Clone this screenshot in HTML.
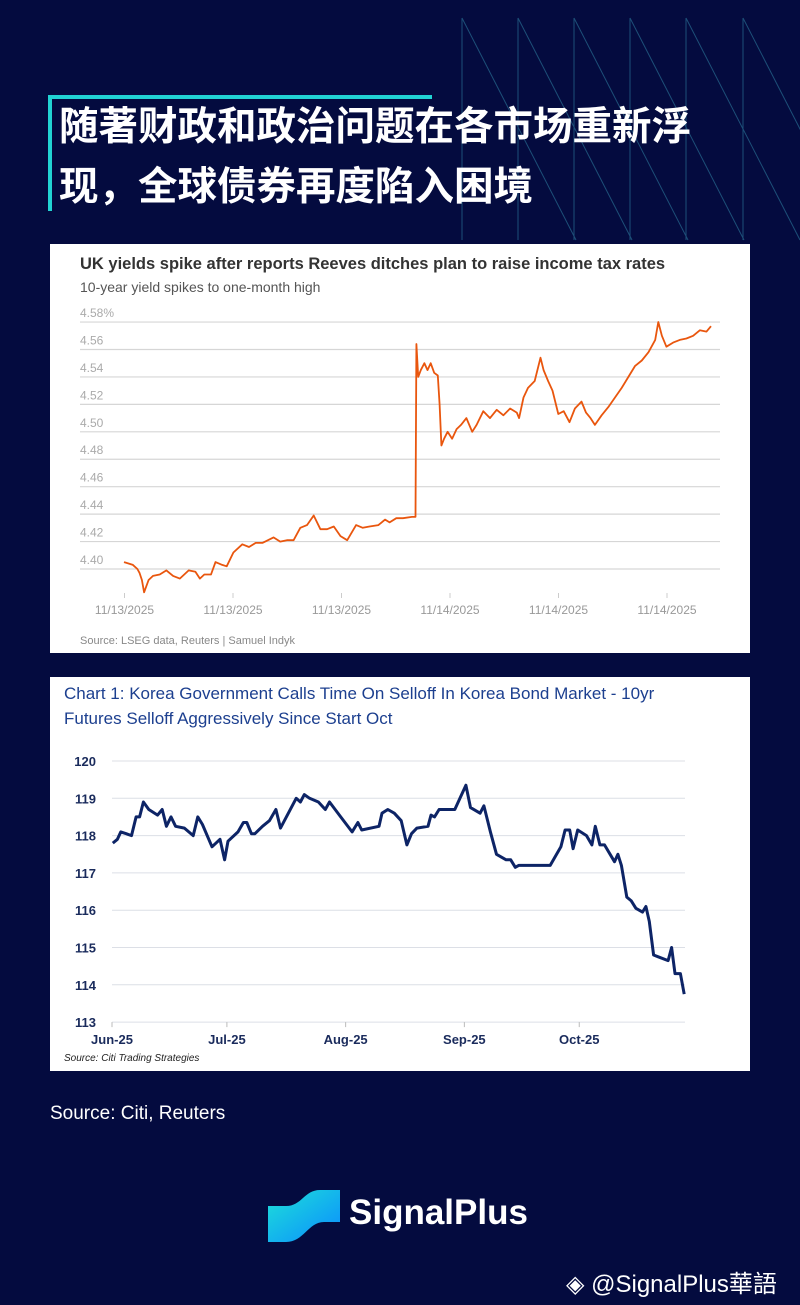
<!DOCTYPE html>
<html><head><meta charset="utf-8">
<style>
html,body{margin:0;padding:0}
body{width:800px;height:1305px;position:relative;overflow:hidden;background:#040b3f;font-family:"Liberation Sans","Noto Sans CJK SC",sans-serif}
.abs{position:absolute}
</style></head>
<body>
<svg class="abs" style="left:0;top:0" width="800" height="1305">
<defs>
<radialGradient id="g1" cx="1" cy="0" r="0.5"><stop offset="0" stop-color="#1fb8d8" stop-opacity="0.9"/><stop offset="1" stop-color="#040b3f" stop-opacity="0"/></radialGradient>
<radialGradient id="g2" cx="0" cy="0.5" r="0.5"><stop offset="0" stop-color="#168bb0" stop-opacity="0.8"/><stop offset="1" stop-color="#040b3f" stop-opacity="0"/></radialGradient>
<linearGradient id="lg" x1="0" x2="1" y1="0" y2="1"><stop offset="0" stop-color="#1ee0d8"/><stop offset="1" stop-color="#0a8cff"/></linearGradient>
</defs>
<rect x="620" y="-120" width="360" height="260" fill="url(#g1)"/>
<rect x="-60" y="520" width="120" height="160" fill="url(#g2)"/>
<g stroke="#1d4f78" stroke-width="1" fill="none">
<line x1="462" y1="18" x2="462" y2="240"/><line x1="462" y1="18" x2="576" y2="240"/>
<line x1="518" y1="18" x2="518" y2="240"/><line x1="518" y1="18" x2="632" y2="240"/>
<line x1="574" y1="18" x2="574" y2="240"/><line x1="574" y1="18" x2="688" y2="240"/>
<line x1="630" y1="18" x2="630" y2="240"/><line x1="630" y1="18" x2="744" y2="240"/>
<line x1="686" y1="18" x2="686" y2="240"/><line x1="686" y1="18" x2="800" y2="240"/>
<line x1="743" y1="18" x2="743" y2="240"/><line x1="743" y1="18" x2="857" y2="240"/>
</g>
</svg>

<div class="abs" style="left:48px;top:95px;width:384px;height:4px;background:#21d3d3"></div>
<div class="abs" style="left:48px;top:95px;width:4px;height:116px;background:#21d3d3"></div>
<div class="abs" style="left:59px;top:97px;width:740px;color:#fff;font-weight:bold;font-size:39.5px;line-height:60px;white-space:nowrap;font-family:'Liberation Sans','Noto Sans CJK SC',sans-serif">随著财政和政治问题在各市场重新浮<br>现，全球债券再度陷入困境</div>

<div class="abs" style="left:50px;top:244px;width:700px;height:409px;background:#fff">
<svg id="c1" width="700" height="409"></svg>
</div>

<div class="abs" style="left:50px;top:677px;width:700px;height:394px;background:#fff">
<svg id="c2" width="700" height="394"></svg>
</div>

<div class="abs" style="left:50px;top:1103px;color:#fff;font-size:19px">Source: Citi, Reuters</div>

<svg class="abs" style="left:268px;top:1188px" width="74" height="56">
<path d="M0 18 H18 C34 18 36 2 52 2 H72 V34 H56 C40 34 36 54 18 54 H0 Z" fill="url(#lg)"/>
</svg>
<div class="abs" style="left:349px;top:1193px;color:#fff;font-weight:bold;font-size:35px">SignalPlus</div>
<div class="abs" style="left:566px;top:1264px;color:#fff;font-size:24px;font-family:'Liberation Sans','Noto Sans CJK TC',sans-serif">◈ @SignalPlus華語</div>

<script>
const NS='http://www.w3.org/2000/svg';
function mk(svg,tag,attrs,text){const e=document.createElementNS(NS,tag);for(const k in attrs)e.setAttribute(k,attrs[k]);if(text!==undefined)e.textContent=text;svg.appendChild(e);return e;}

/* ---------- Chart 1 data ---------- */
const ukTimes=[0,10,20,30,35,40,45,55,65,80,95,110,125,145,160,170,180,195,205,220,230,245,265,280,295,310,335,350,365,380,395,410,425,440,455,470,485,500,520,535,550,570,585,595,610,625,645,653,655,659,665,673,680,687,695,703,707,711,717,725,735,745,755,767,780,790,805,820,835,850,865,880,885,895,905,920,933,940,950,960,973,985,998,1010,1025,1035,1045,1055,1070,1085,1100,1115,1130,1145,1160,1175,1190,1197,1205,1215,1230,1245,1260,1275,1290,1305,1315];
const ukYields=[4.405,4.404,4.403,4.400,4.397,4.392,4.383,4.392,4.395,4.396,4.399,4.395,4.393,4.399,4.398,4.393,4.396,4.396,4.405,4.403,4.402,4.412,4.418,4.416,4.419,4.419,4.423,4.420,4.421,4.421,4.430,4.432,4.439,4.429,4.429,4.431,4.424,4.421,4.432,4.430,4.431,4.432,4.436,4.434,4.437,4.437,4.438,4.438,4.564,4.540,4.545,4.550,4.545,4.550,4.543,4.541,4.520,4.490,4.495,4.500,4.495,4.502,4.505,4.510,4.500,4.505,4.515,4.510,4.516,4.512,4.517,4.514,4.510,4.525,4.532,4.537,4.554,4.545,4.537,4.530,4.513,4.515,4.507,4.517,4.522,4.514,4.510,4.505,4.512,4.518,4.525,4.532,4.540,4.548,4.552,4.558,4.567,4.580,4.570,4.562,4.565,4.567,4.568,4.570,4.574,4.573,4.577];
const ukTicks=[4.40,4.42,4.44,4.46,4.48,4.50,4.52,4.54,4.56,4.58];
const ukXLabels=['11/13/2025','11/13/2025','11/13/2025','11/14/2025','11/14/2025','11/14/2025'];

(function(){
 const s=document.getElementById('c1');
 const y=v=>325+(4.40-v)*1372;
 const x=t=>74+t*(661-74)/1315;
 mk(s,'text',{x:30,y:25,'font-size':16.5,'font-weight':'bold',fill:'#333',},'UK yields spike after reports Reeves ditches plan to raise income tax rates');
 mk(s,'text',{x:30,y:48,'font-size':14,fill:'#555',},'10-year yield spikes to one-month high');
 ukTicks.forEach((v,i)=>{
  const g=mk(s,'line',{x1:30,x2:670,y1:y(v),y2:y(v),stroke:'#d6d6d6','stroke-width':1.2});
  
  
  const t=mk(s,'text',{x:30,y:y(v)-5,'font-size':12,fill:'#aaa'},v.toFixed(2)+(i===ukTicks.length-1?'%':''));
  
  
 });
 ukXLabels.forEach((l,i)=>{
  const xx=74.5+i*108.5;
  const tk=mk(s,'line',{x1:xx,x2:xx,y1:349,y2:354,stroke:'#ccc'});
  
  
  const t=mk(s,'text',{x:xx,y:370,'font-size':12,fill:'#999','text-anchor':'middle'},l);
  
  
 });
 const p=mk(s,'path',{d:ukTimes.map((t,i)=>(i?'L':'M')+x(t).toFixed(1)+' '+y(ukYields[i]).toFixed(1)).join(''),fill:'none',stroke:'#e9560e','stroke-width':1.8,'stroke-linejoin':'round'});
 
 
 mk(s,'text',{x:30,y:400,'font-size':11,fill:'#888',},'Source: LSEG data, Reuters | Samuel Indyk');
})();

/* ---------- Chart 2 data ---------- */
const krDays=[0.2,1.4,2.3,3.7,5.1,6.3,7.2,8.2,9.6,11.9,13.1,14.2,15.4,16.6,18.9,21.2,22.4,23.6,26.1,28.2,29.4,30.3,32.9,34.3,35.2,36.4,37.3,39.3,41.1,42.8,44.0,48.1,49.2,50.2,51.6,53.9,55.7,56.8,59.7,62.7,64.2,65.2,69.7,70.5,72.0,73.7,75.5,77.0,78.2,79.6,82.5,83.3,84.2,85.4,89.5,92.4,93.6,96.1,97.1,98.8,100.4,102.9,104.1,105.3,106.2,114.4,115.8,117.2,118.3,119.5,120.4,121.6,123.9,125.3,126.2,127.4,128.6,131.2,132.1,133.0,134.4,135.6,136.8,138.5,139.4,140.3,141.4,142.6,145.2,146.1,147.0,148.4,149.4];
const krPrices=[117.8,117.9,118.1,118.05,118.0,118.5,118.5,118.9,118.7,118.55,118.7,118.25,118.5,118.25,118.2,118.0,118.5,118.3,117.7,117.9,117.35,117.85,118.1,118.35,118.35,118.05,118.05,118.25,118.4,118.7,118.2,119.0,118.9,119.1,119.0,118.9,118.7,118.9,118.5,118.1,118.35,118.15,118.25,118.6,118.7,118.6,118.4,117.75,118.05,118.2,118.25,118.55,118.5,118.7,118.7,119.35,118.75,118.6,118.8,118.1,117.5,117.35,117.35,117.15,117.2,117.2,117.45,117.7,118.15,118.15,117.65,118.15,118.0,117.75,118.25,117.75,117.75,117.3,117.5,117.2,116.35,116.25,116.05,115.95,116.1,115.7,114.8,114.75,114.65,115.0,114.3,114.3,113.75];
const krTicks=[113,114,115,116,117,118,119,120];
const krMonthDays=[0,30,61,92,122];
const krMonthLabels=['Jun-25','Jul-25','Aug-25','Sep-25','Oct-25'];

(function(){
 const s=document.getElementById('c2');
 const y=v=>84+(120-v)*37.3;
 const x=d=>62+d*3.83;
 mk(s,'text',{x:14,y:22,'font-size':17,fill:'#1c3f8f',},'Chart 1: Korea Government Calls Time On Selloff In Korea Bond Market - 10yr');
 mk(s,'text',{x:14,y:47,'font-size':17,fill:'#1c3f8f',},'Futures Selloff Aggressively Since Start Oct');
 krTicks.forEach(v=>{
  const g=mk(s,'line',{x1:62,x2:635,y1:y(v),y2:y(v),stroke:'#dcdfe6','stroke-width':1});
  
  
  const t=mk(s,'text',{x:46,y:y(v)+5,'font-size':13,'font-weight':'bold',fill:'#1a2b5c','text-anchor':'end'},String(v));
  
  
 });
 krMonthDays.forEach((d,i)=>{
  const tk=mk(s,'line',{x1:x(d),x2:x(d),y1:y(113),y2:y(113)+5,stroke:'#bbb'});
  
  
  const t=mk(s,'text',{x:x(d),y:y(113)+22,'font-size':13,'font-weight':'bold',fill:'#1a2b5c','text-anchor':'middle'},krMonthLabels[i]);
  
  
 });
 const p=mk(s,'path',{d:krDays.map((d,i)=>(i?'L':'M')+x(d).toFixed(1)+' '+y(krPrices[i]).toFixed(1)).join(''),fill:'none',stroke:'#0d2466','stroke-width':3,'stroke-linejoin':'round'});
 
 
 mk(s,'text',{x:14,y:384,'font-size':10,'font-style':'italic',fill:'#222',},'Source: Citi Trading Strategies');
})();
</script>
</body></html>
